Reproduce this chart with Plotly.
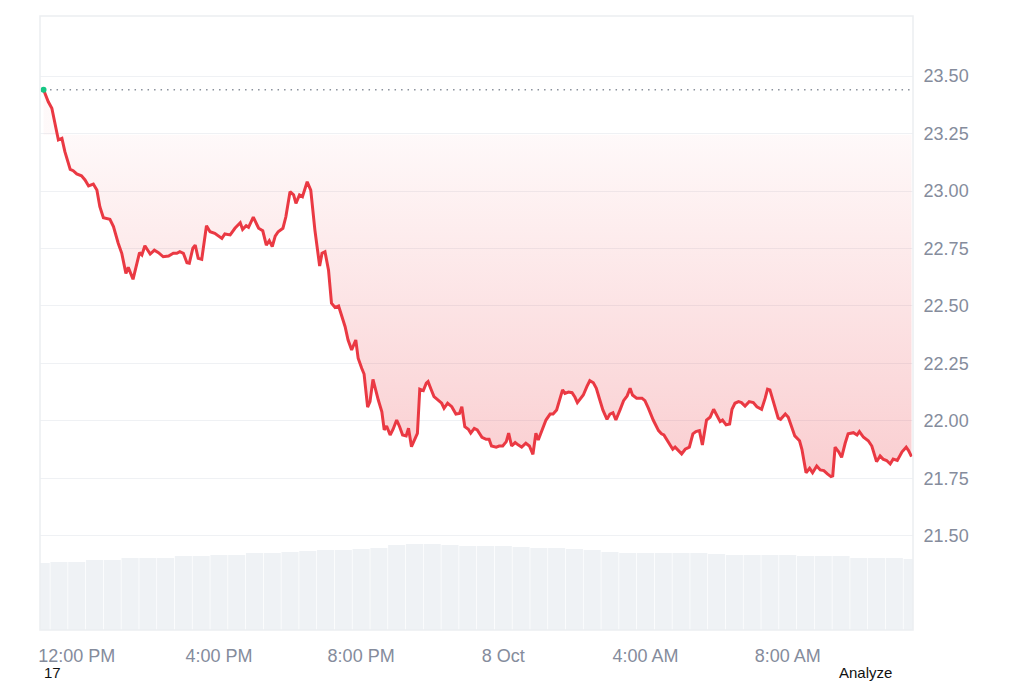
import datetime as dt
import plotly.graph_objects as go

# ---- data ----
base_time = dt.datetime(2024, 10, 7, 12, 0)

minutes = [-56, -48, -42, -37, -31, -25, -20, -11, -6, 0, 8, 14, 20, 28, 34, 39, 45, 56, 62, 70,
           76, 83, 87, 95, 101, 106, 110, 115, 124, 131, 138, 146, 155, 163, 169, 174, 180, 186, 190, 196,
           200, 205, 211, 219, 225, 233, 245, 250, 259, 267, 276, 280, 286, 290, 298, 307, 314, 320, 325, 330,
           335, 340, 348, 353, 360, 366, 370, 376, 381, 389, 395, 402, 410, 414, 419, 425, 430, 436, 442, 447,
           453, 458, 464, 471, 475, 481, 485, 491, 495, 500, 504, 509, 515, 519, 523, 529, 534, 540, 545, 550,
           556, 560, 565, 571, 575, 579, 585, 590, 593, 598, 603, 610, 616, 620, 626, 633, 640, 646, 650, 655,
           661, 665, 671, 676, 684, 691, 696, 700, 708, 713, 719, 725, 729, 734, 740, 745, 751, 758, 764, 770,
           775, 779, 785, 792, 799, 804, 810, 815, 820, 824, 830, 836, 841, 845, 850, 855, 861, 866, 872, 877,
           882, 888, 895, 900, 905, 910, 917, 923, 929, 934, 938, 945, 954, 959, 965, 973, 982, 987, 991, 999,
           1006, 1010, 1015, 1021, 1027, 1034, 1040, 1045, 1051, 1056, 1063, 1069, 1075, 1080, 1086, 1090, 1096, 1102, 1106, 1111,
           1117, 1122, 1128, 1135, 1142, 1148, 1156, 1162, 1166, 1170, 1176, 1184, 1188, 1196, 1201, 1207, 1212, 1220, 1224, 1231,
           1237, 1242, 1249, 1255, 1261, 1267, 1273, 1276, 1280, 1286, 1291, 1297, 1302, 1311, 1317, 1321, 1328, 1336, 1342, 1350,
           1356, 1361, 1367, 1373, 1378, 1385, 1393, 1400, 1404, 1409]

prices = [23.440, 23.388, 23.360, 23.301, 23.222, 23.229, 23.171, 23.094, 23.088, 23.074, 23.066, 23.048, 23.022, 23.030, 23.004, 22.932, 22.884, 22.877, 22.845, 22.773,
          22.729, 22.642, 22.668, 22.616, 22.686, 22.732, 22.722, 22.762, 22.726, 22.743, 22.732, 22.714, 22.717, 22.729, 22.729, 22.736, 22.729, 22.688, 22.686, 22.751,
          22.765, 22.707, 22.703, 22.849, 22.823, 22.816, 22.794, 22.813, 22.809, 22.838, 22.862, 22.833, 22.849, 22.842, 22.886, 22.838, 22.827, 22.765, 22.784, 22.758,
          22.804, 22.823, 22.838, 22.888, 22.997, 22.983, 22.946, 22.983, 22.975, 23.040, 23.004, 22.830, 22.674, 22.729, 22.736, 22.656, 22.512, 22.494, 22.500, 22.461,
          22.410, 22.352, 22.309, 22.352, 22.273, 22.229, 22.204, 22.060, 22.084, 22.181, 22.135, 22.091, 22.040, 21.961, 21.978, 21.939, 21.964, 22.004, 21.975, 21.939,
          21.935, 21.968, 21.888, 21.925, 21.946, 22.138, 22.132, 22.164, 22.171, 22.138, 22.106, 22.091, 22.077, 22.055, 22.077, 22.062, 22.030, 22.033, 22.062, 21.975,
          21.964, 21.947, 21.968, 21.961, 21.929, 21.920, 21.920, 21.891, 21.886, 21.891, 21.891, 21.910, 21.947, 21.891, 21.906, 21.896, 21.886, 21.903, 21.891, 21.855,
          21.947, 21.917, 21.954, 22.004, 22.030, 22.030, 22.048, 22.091, 22.135, 22.120, 22.126, 22.123, 22.103, 22.080, 22.099, 22.113, 22.149, 22.175, 22.166, 22.142,
          22.099, 22.048, 22.007, 22.030, 22.036, 22.004, 22.048, 22.088, 22.109, 22.142, 22.113, 22.099, 22.099, 22.088, 22.055, 22.004, 21.958, 21.944, 21.939, 21.903,
          21.877, 21.886, 21.871, 21.857, 21.877, 21.886, 21.944, 21.954, 21.958, 21.896, 22.004, 22.016, 22.051, 22.026, 21.997, 22.004, 21.983, 21.987, 22.051, 22.077,
          22.084, 22.080, 22.065, 22.084, 22.080, 22.062, 22.051, 22.099, 22.138, 22.135, 22.077, 22.012, 22.007, 22.030, 22.016, 21.975, 21.935, 21.914, 21.877, 21.775,
          21.794, 21.775, 21.804, 21.787, 21.784, 21.770, 21.758, 21.761, 21.886, 21.866, 21.842, 21.903, 21.944, 21.949, 21.939, 21.954, 21.929, 21.914, 21.891, 21.823,
          21.848, 21.834, 21.828, 21.813, 21.834, 21.828, 21.866, 21.886, 21.871, 21.845]

volume_minutes = list(range(-60, 1411, 30))
volumes_m = [134, 136, 136, 140, 140, 144, 144, 144, 148, 148, 150, 150, 154, 154, 156, 158, 160, 160, 162, 164,
             170, 172, 172, 170, 168, 168, 168, 166, 164, 164, 162, 160, 156, 154, 154, 154, 154, 154, 152, 150,
             150, 150, 150, 148, 148, 148, 144, 144, 144, 142]

tick_minutes = [0, 240, 480, 720, 960, 1200]
tick_labels = ["12:00 PM", "4:00 PM", "8:00 PM", "8 Oct", "4:00 AM", "8:00 AM"]
y_ticks = [21.50, 21.75, 22.00, 22.25, 22.50, 22.75, 23.00, 23.25, 23.50]

# ---- styling ----
RED = "#ea3943"
GREEN = "#16c784"
GRID = "#eff1f4"
LABEL = "#858c9c"
FONT = "Liberation Sans, Arial, sans-serif"
x_start = base_time + dt.timedelta(minutes=-62)
x_end = base_time + dt.timedelta(minutes=1411.5)
fill_top = 23.245

times = [base_time + dt.timedelta(minutes=m) for m in minutes]
vol_times = [base_time + dt.timedelta(minutes=m) for m in volume_minutes]

fig = go.Figure()

fig.add_trace(go.Bar(x=vol_times, y=volumes_m, yaxis="y2", marker=dict(color="#eff2f5", line=dict(width=0)),
                     hoverinfo="skip", showlegend=False))

# fill baseline
fig.add_trace(go.Scatter(x=times, y=[fill_top] * len(times), mode="lines", line=dict(width=0, color="rgba(0,0,0,0)"),
                         hoverinfo="skip", showlegend=False))
fig.add_trace(go.Scatter(
    x=times, y=prices, mode="lines", line=dict(color=RED, width=3),
    fill="tonexty",
    fillgradient=dict(type="vertical",
                      colorscale=[[0, "rgba(234,57,67,0.25)"], [1, "rgba(234,57,67,0.03)"]],
                      start=21.75, stop=fill_top),
    showlegend=False))

# opening-price reference line
fig.add_trace(go.Scatter(x=[times[0], x_end], y=[prices[0], prices[0]], mode="lines",
                         line=dict(color="#8a919c", width=1.4, dash="1.5px,5px"), hoverinfo="skip", showlegend=False))
fig.add_trace(go.Scatter(x=[times[0]], y=[prices[0]], mode="markers",
                         marker=dict(color=GREEN, size=6), showlegend=False))

# page body has an 8px margin, so the figure is offset by (8, 8)
fig.update_layout(
    width=1016, height=675,
    margin=dict(l=32, r=111, t=8, b=53),
    paper_bgcolor="white", plot_bgcolor="white",
    font=dict(family=FONT, size=18, color=LABEL),
    showlegend=False,
    bargap=0.04,
    xaxis=dict(range=[x_start, x_end], showgrid=False, zeroline=False, showline=False,
               tickvals=[base_time + dt.timedelta(minutes=m) for m in tick_minutes], ticktext=tick_labels,
               ticks="outside", ticklen=9, tickcolor="rgba(0,0,0,0)",
               tickfont=dict(family=FONT, size=18, color=LABEL)),
    yaxis=dict(range=[21.091, 23.761], side="right", showgrid=True, gridcolor=GRID, gridwidth=1,
               zeroline=False, showline=False, tickvals=y_ticks, tickformat=".2f",
               ticks="outside", ticklen=6, tickcolor="rgba(0,0,0,0)",
               tickfont=dict(family=FONT, size=18, color=LABEL)),
    yaxis2=dict(range=[0, 1228], overlaying="y", visible=False),
    shapes=[dict(type="rect", xref="paper", yref="paper", x0=0, x1=1, y0=0, y1=1,
                 line=dict(color="#eceef1", width=1.5), layer="above")],
    annotations=[
        dict(text="17", xref="paper", yref="paper", x=(42.7 - 40) / 873, y=-0.0855, xanchor="left", yanchor="bottom",
             showarrow=False, borderpad=0, font=dict(family=FONT, size=15, color="#111111")),
        dict(text="Analyze", xref="paper", yref="paper", x=(838.3 - 40) / 873, y=-0.0855, xanchor="left", yanchor="bottom",
             showarrow=False, borderpad=0, font=dict(family=FONT, size=15, color="#111111")),
    ],
)

fig.write_html("out.html")
